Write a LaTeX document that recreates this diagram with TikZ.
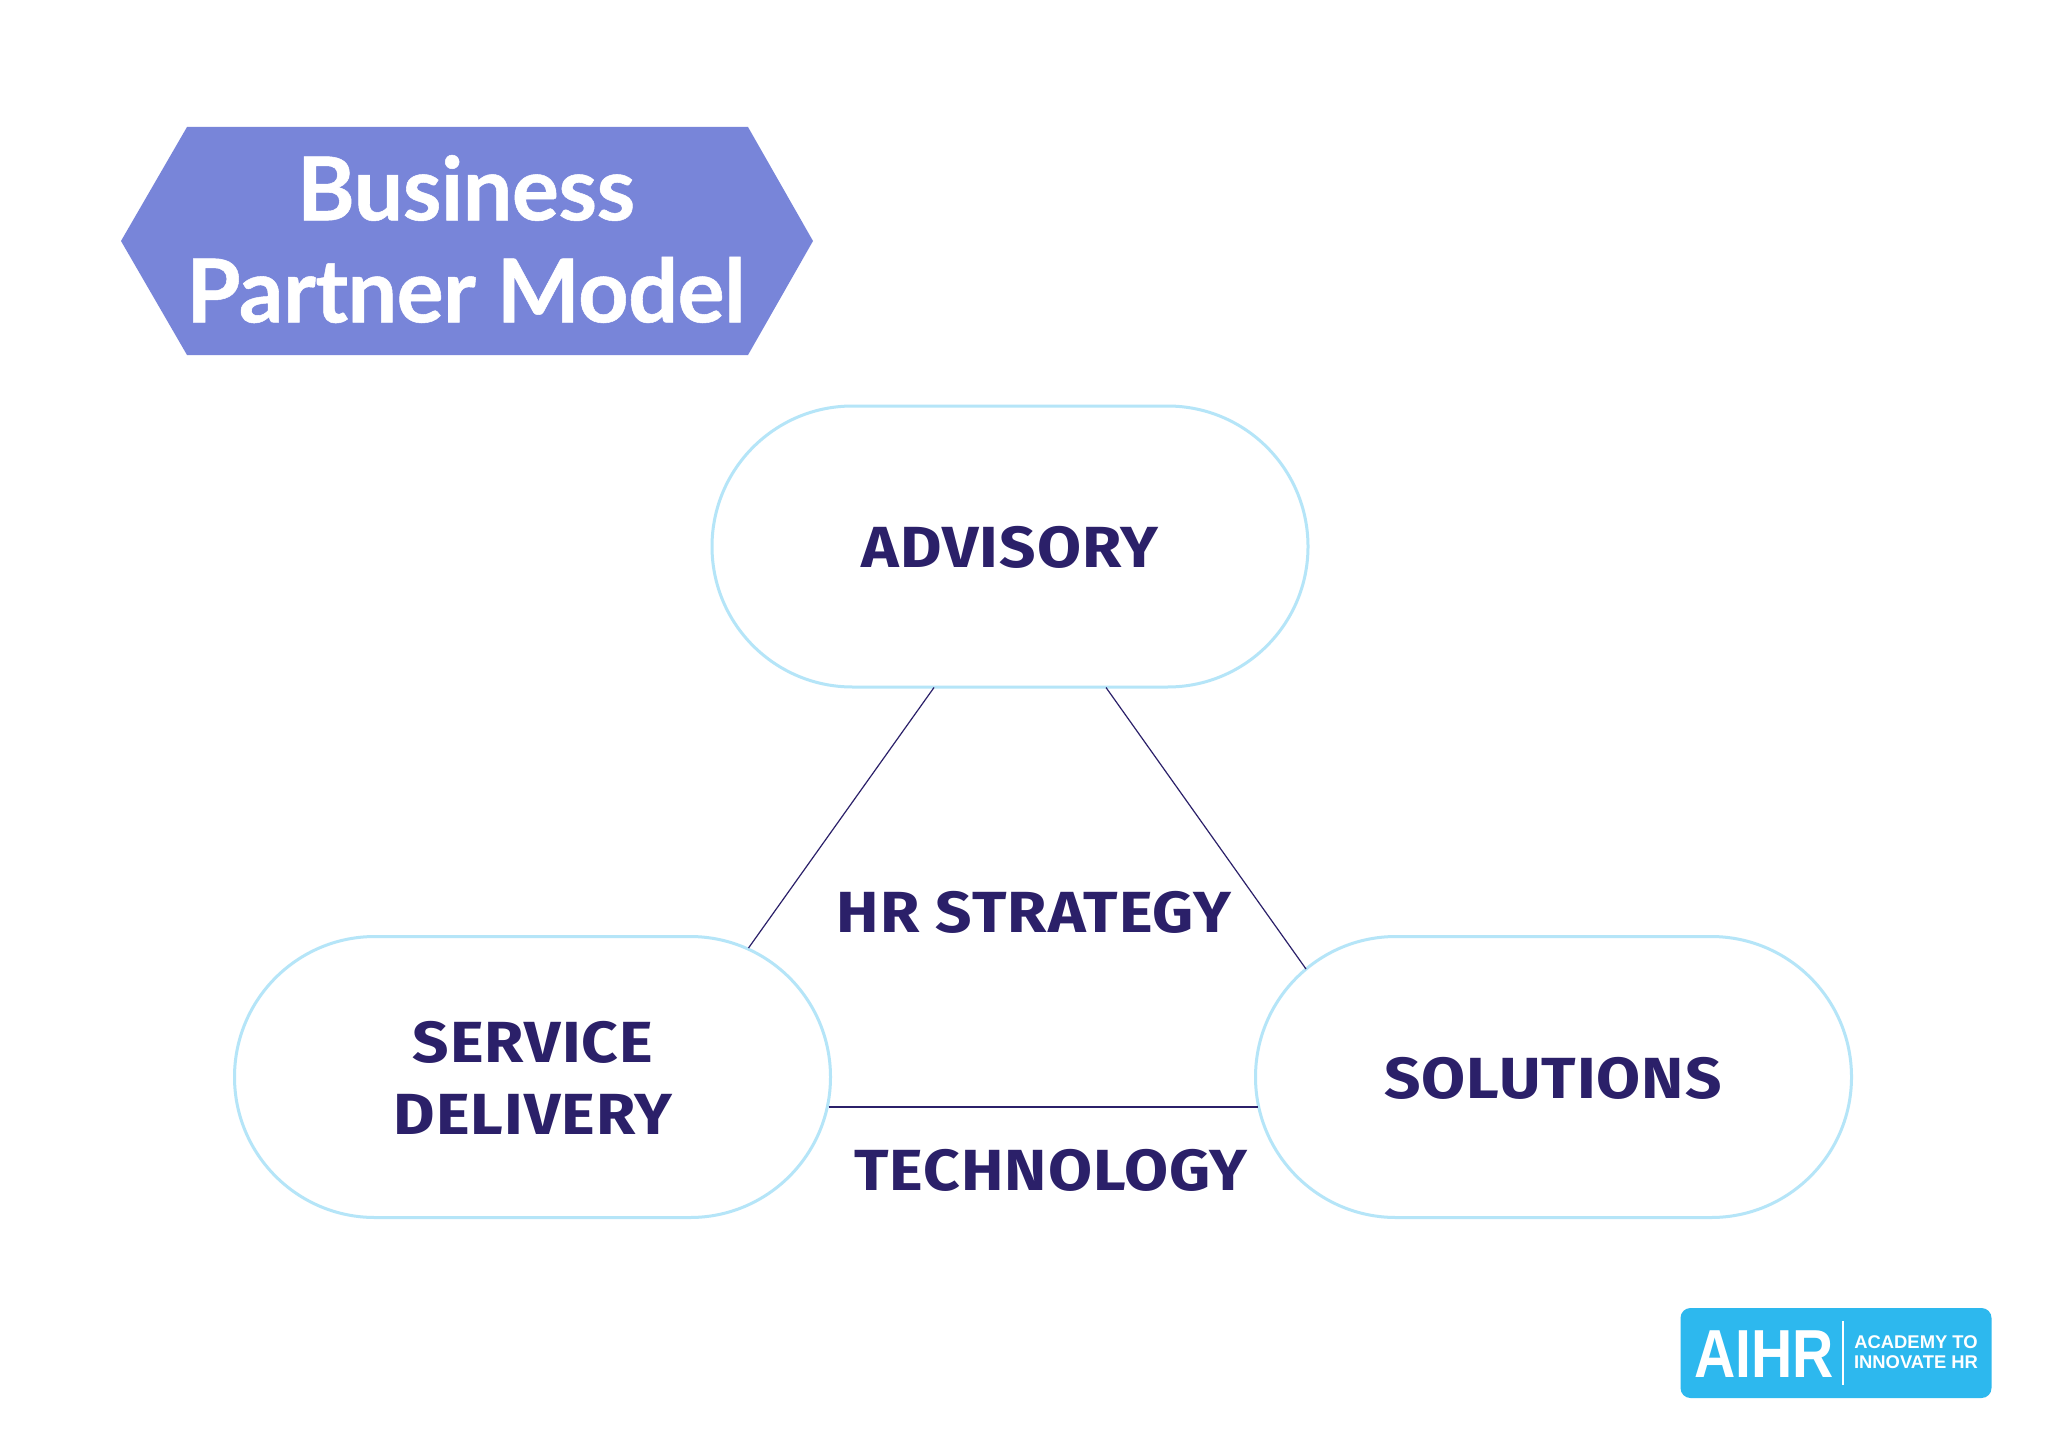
\documentclass[tikz,border=0pt]{standalone}
\usepackage{fontspec}
\setmainfont{Fira Sans}
\newfontfamily\titlefont{Lato}[BoldFeatures={FakeBold=0.6,LetterSpace=-0.6}]
\newfontfamily\labelfont{Fira Sans}[BoldFeatures={FakeStretch=1.1,LetterSpace=1.8}]
\newfontfamily\logofont{Liberation Sans}
\newfontfamily\logobig{Liberation Sans}[BoldFeatures={FakeStretch=0.84}]
\usetikzlibrary{shapes.misc,calc}
\definecolor{hexfill}{HTML}{7885D9}
\definecolor{ink}{HTML}{2B2069}
\definecolor{pill}{HTML}{B5E5F8}
\definecolor{logoblue}{HTML}{2DB8EE}
\tikzset{
  pillbox/.style={draw=pill,line width=1.5pt,fill=white,rounded rectangle,minimum width=298pt,minimum height=140.5pt,inner sep=0pt},
  lab/.style={text=ink,font=\labelfont\bfseries\fontsize{29}{36}\selectfont,align=center,inner sep=0pt},
  conn/.style={draw=ink,line width=0.6pt},
  ttl/.style={text=white,font=\titlefont\bfseries\fontsize{44}{51}\selectfont,inner sep=0pt},
  tiny/.style={text=white,font=\logofont\bfseries\fontsize{9.2}{10}\selectfont,inner sep=0pt}
}
\begin{document}
\begin{tikzpicture}[x=0.5pt,y=-0.5pt]
\useasboundingbox[fill=white] (0,0) rectangle (2048,1449);
\fill[hexfill] (121,241) -- (187,127) -- (748,127) -- (813,241) -- (748,355) -- (187,355) -- cycle;
\node[ttl] (t1) at (466,188) {Business};
\node[ttl] (t2) at (466,290) {Partner Model};
\node[pillbox] (adv) at (1010,546.5) {};
\node[pillbox] (svc) at (532.5,1077) {};
\node[pillbox] (sol) at (1553.5,1077) {};
\draw[conn] ($(adv.center)+(-76,141)$) -- ($(svc.center)+(216,-129)$);
\draw[conn] ($(adv.center)+(96,141)$) -- ($(sol.center)+(-247.5,-108)$);
\draw[conn] ($(svc.center)+(296,30)$) -- ($(sol.center)+(-296,30)$);
\node[lab] (a) at (1010,547) {ADVISORY};
\node[lab] (s1) at (533,1042) {SERVICE};
\node[lab] (s2) at (533,1114) {DELIVERY};
\node[lab] (so) at (1553,1078) {SOLUTIONS};
\node[lab] (hr) at (1034,912) {HR STRATEGY};
\node[lab] (te) at (1051,1170) {TECHNOLOGY};
\node[fill=logoblue,rounded corners=5pt,minimum width=155.5pt,minimum height=45pt,inner sep=0pt] (logo) at (1836,1353) {};
\node[text=white,font=\logobig\bfseries\fontsize{34}{34}\selectfont,inner sep=0pt] (aihr) at (1764,1354) {AIHR};
\draw[white,line width=1pt] ($(logo.center)+(7,-32)$) -- ($(logo.center)+(7,32)$);
\node[tiny] (l1) at (1916,1342) {ACADEMY TO};
\node[tiny] (l2) at (1916,1362) {INNOVATE HR};
\end{tikzpicture}
\end{document}
